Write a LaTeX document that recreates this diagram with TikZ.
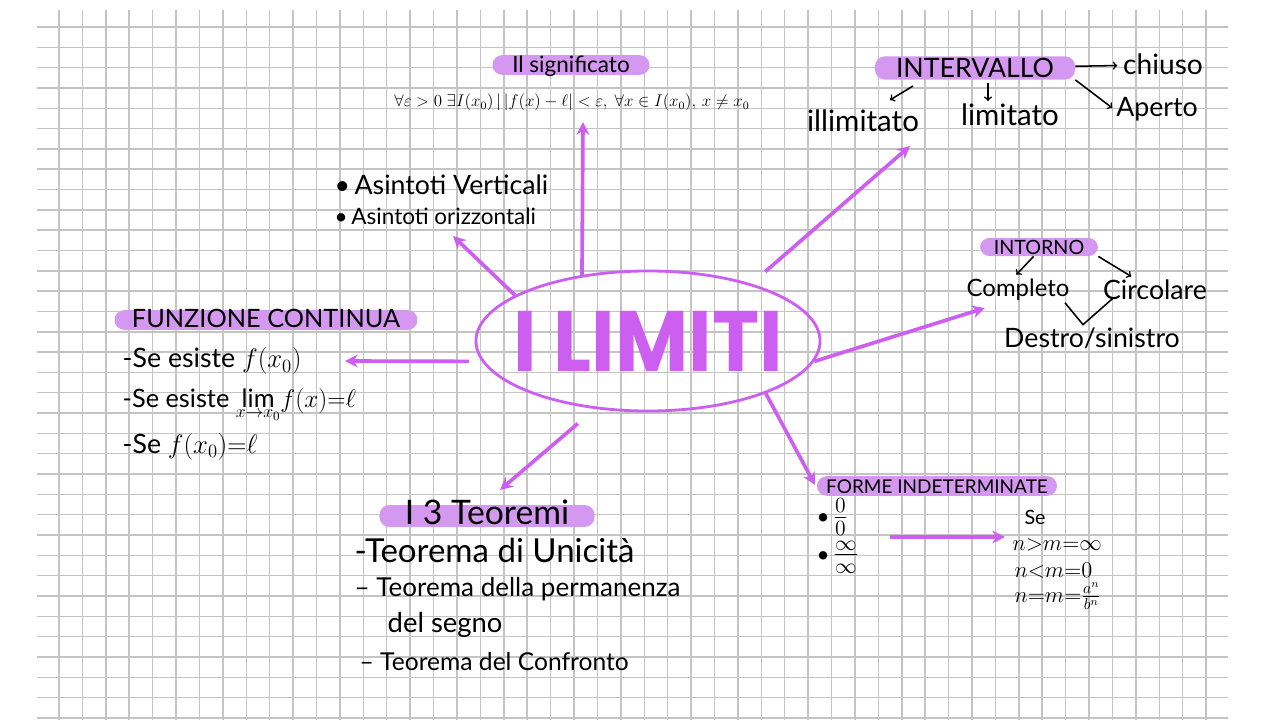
\RequirePackage{fix-cm}
\documentclass[tikz,border=0pt]{standalone}
\usepackage{fontspec}
\setmainfont{Lato}
\newfontfamily\titlefont{Poppins}
\usetikzlibrary{shapes.geometric, arrows.meta}
\definecolor{limcol}{RGB}{204,94,240}
\definecolor{hlcol}{RGB}{212,152,240}
\definecolor{gridcol}{RGB}{196,196,196}
\newcommand{\fsz}[1]{\fontsize{#1}{#1}\selectfont}

\begin{document}
\begin{tikzpicture}[x=0.025cm, y=-0.025cm,
    >={Stealth[length=9pt, width=9pt]},
    gridline/.style={draw=gridcol, line width=1.05pt},
    pill/.style={fill=hlcol, rounded corners=7pt, inner xsep=0pt, inner ysep=0pt,
                 text height=12.5pt, text depth=1.5pt},
    lbl/.style={inner sep=1pt},
    title/.style={text=limcol, font=\titlefont\bfseries\fsz{61}},
    hub/.style={draw=limcol, line width=2pt, ellipse, inner sep=0pt,
                minimum width=8.6cm, minimum height=3.5cm},
    branch/.style={->, draw=limcol, line width=2.6pt},
    link/.style={-to, line width=1.1pt},
    plain/.style={line width=1.1pt}]

  \fill[white] (0,0) rectangle (1280,720);
  \useasboundingbox (0,0) rectangle (1280,720);

  % squared paper
  \foreach \i in {0,...,49}
    \draw[gridline] ({59+23.41*\i},10) -- ({59+23.41*\i},720);
  \foreach \j in {0,...,34}
    \draw[gridline] (37,{27+20.32*\j}) -- (1228,{27+20.32*\j});

  % centre
  \node[hub, label={[title]center:\scalebox{0.93}[1]{I LIMITI}}] (limiti) at (648,341) {};

  % significato
  \node[pill, minimum width=3.925cm] (sig) at (571,65) {\fsz{16}Il significato};
  \node[lbl, anchor=base] (def) at (572,107)
    {\fsz{12}$\forall\varepsilon>0\;\exists I(x_0)\,|\,|f(x)-\ell|<\varepsilon,\ \forall x\in I(x_0),\,x\neq x_0$};
  \coordinate (tsig) at (583,122);
  \draw[branch] (limiti.135) -- (tsig);

  % intervallo
  \node[pill, minimum width=5cm, text height=15pt] (interv) at (975,68) {\fsz{19}INTERVALLO};
  \node[lbl, anchor=base] (chiuso) at (1163,75) {\fsz{20}chiuso};
  \node[lbl, anchor=base] (aperto) at (1157,117) {\fsz{19}Aperto};
  \node[lbl, anchor=base] (illim) at (863,132) {\fsz{21}illimitato};
  \node[lbl, anchor=base] (lim) at (1010,126) {\fsz{21}limitato};
  \coordinate (il0) at (913,86);
  \coordinate (il1) at (890,100);
  \coordinate (dn0) at (988,83);
  \coordinate (dn1) at (988,101);
  \draw[link, shorten >=3pt] (interv) -- (chiuso);
  \draw[link, shorten >=2pt] (interv.south east) -- (aperto.west);
  \draw[link] (il0) -- (il1);
  \draw[link] (dn0) -- (dn1);
  \coordinate (tint) at (910,146);
  \draw[branch, shorten <=13pt] (limiti.29) -- (tint);

  % asintoti
  \node[lbl, anchor=base west] (asin1) at (333,195) {\fsz{19}\textbullet\,Asintoti Verticali};
  \node[lbl, anchor=base west] (asin2) at (333,225) {\fsz{16}\textbullet\,Asintoti orizzontali};
  \coordinate (tasin) at (453,236);
  \draw[branch] (limiti.161) -- (tasin);

  % funzione continua
  \node[pill, minimum width=7.575cm] (cont) at (266,320) {\fsz{18}FUNZIONE CONTINUA};
  \node[lbl, anchor=base west] (cont1) at (121,368) {\fsz{19}-Se esiste $f(x_0)$};
  \node[lbl, anchor=base west] (cont2) at (121,408) {\fsz{18}-Se esiste $\lim\limits_{x\to x_0}\!f(x){=}\ell$};
  \node[lbl, anchor=base west] (cont3) at (121,453) {\fsz{19}-Se $f(x_0){=}\ell$};
  \coordinate (tcont) at (345,361);
  \draw[branch, shorten <=9pt] (limiti.187) -- (tcont);

  % teoremi
  \node[pill, minimum width=5.375cm, text height=14pt] (teo) at (487,516) {\fsz{24}I 3 Teoremi};
  \node[lbl, anchor=base west] (teo1) at (353,562) {\fsz{23.5}-Teorema di Unicità};
  \node[lbl, anchor=base west] (teo2) at (353,596) {\fsz{18.5}– Teorema della permanenza};
  \node[lbl, anchor=base west] (teo3) at (386,632) {\fsz{19.5}del segno};
  \node[lbl, anchor=base west] (teo4) at (358,670) {\fsz{17.5}– Teorema del Confronto};
  \coordinate (tteo) at (500,490);
  \draw[branch, shorten <=16pt] (limiti.232) -- (tteo);

  % forme indeterminate
  \node[pill, minimum width=6cm] (forme) at (937,486) {\fsz{13.5}FORME INDETERMINATE};
  \node[lbl, anchor=west] (ind1) at (815,517) {\fsz{16}\textbullet\,\fsz{22}$\frac{0}{0}$};
  \node[lbl, anchor=west] (ind2) at (815,557) {\fsz{16}\textbullet\,\fsz{22}$\frac{\infty}{\infty}$};
  \node[lbl, anchor=base] (se) at (1035,524) {\fsz{14}Se};
  \node[lbl, anchor=base west] (se1) at (1011,550) {\fsz{16}$n{>}m{=}\infty$};
  \node[lbl, anchor=base west] (se2) at (1013,577) {\fsz{16}$n{<}m{=}0$};
  \node[lbl, anchor=base west] (se3) at (1013,602) {\fsz{16}$n{=}m{=}\frac{a^n}{b^n}$};
  \coordinate (fa) at (890,537);
  \coordinate (fb) at (1005,537);
  \draw[branch] (fa) -- (fb);
  \coordinate (tforme) at (815,485);
  \draw[branch] (limiti.336) -- (tforme);

  % intorno
  \node[pill, minimum width=2.95cm, text height=11.5pt] (intorno) at (1039,247) {\fsz{14}INTORNO};
  \node[lbl, anchor=base] (compl) at (1018,297) {\fsz{17}Completo};
  \node[lbl, anchor=base] (circ) at (1155,300) {\fsz{19}Circolare};
  \node[lbl, anchor=base] (destro) at (1092,348) {\fsz{19}Destro/sinistro};
  \draw[link, shorten >=3pt] (intorno.240) -- (compl.110);
  \draw[link, shorten >=3pt] (intorno.south east) -- (circ.150);
  \draw[plain] ([xshift=-0.15cm]compl.south east) -- ([xshift=-0.225cm, yshift=0.05cm]destro.north)
    -- ([xshift=0.3cm, yshift=0.1cm]circ.south west);
  \coordinate (tintorno) at (985,308);
  \draw[branch] (limiti.353) -- (tintorno);
\end{tikzpicture}
\end{document}
